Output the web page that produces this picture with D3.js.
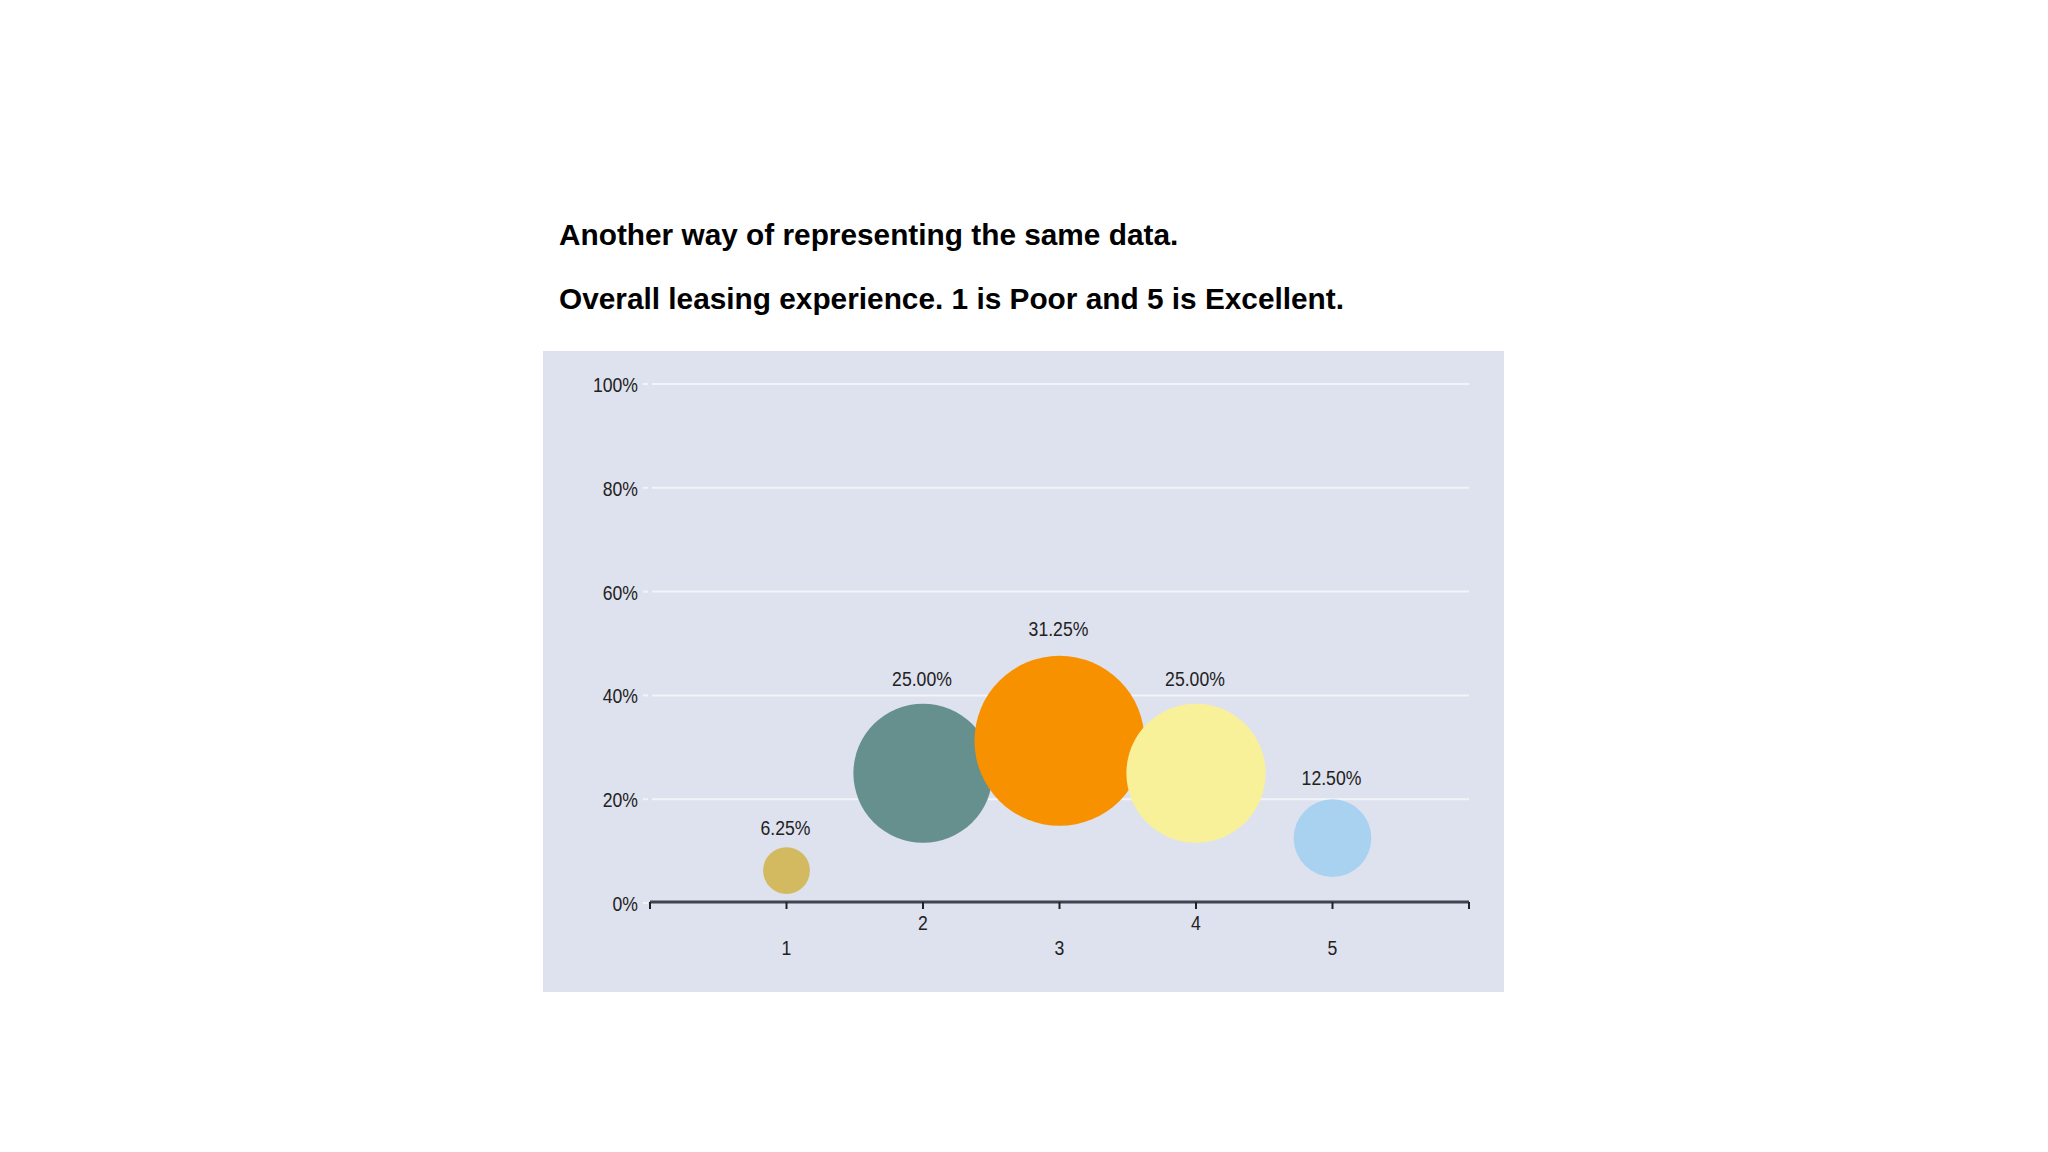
<!DOCTYPE html>
<html>
<head>
<meta charset="utf-8">
<script src="https://cdn.jsdelivr.net/npm/d3@7"></script>
<style>
    body { margin: 0; background: #ffffff; }
    .title { font-family: "Liberation Sans", Arial, sans-serif; font-weight: bold; font-size: 29.8px; fill: #000; }
    .lbl { font-family: "Liberation Sans", Arial, sans-serif; font-size: 21px; fill: #222; }
</style>
</head>
<body>
<div id="content"></div>
<script>
/*
    Chart data
*/
var categories = [1, 2, 3, 4, 5];
var shares = [6.25, 25.00, 31.25, 25.00, 12.50];
var shareLabels = ["6.25%", "25.00%", "31.25%", "25.00%", "12.50%"];
var bubbleColors = ["#d3b95f", "#66908e", "#f79100", "#f8f19a", "#a9d2f0"];
var yTicks = [0, 20, 40, 60, 80, 100];
var titles = ["Another way of representing the same data.",
    "Overall leasing experience. 1 is Poor and 5 is Excellent."];
/*
    Page and plot dimensions
*/
var realW = 2048, realH = 1152;
var panel = { x: 543, y: 351, w: 961, h: 641 };
var plot = { left: 650, right: 1469, top: 384, bottom: 903 };
/*
    Labels in the reference use a condensed face, so squeeze them horizontally
*/
var squeeze = 0.84;

var svg = d3.select("#content")
    .append("svg")
    .attr("width", realW)
    .attr("height", realH);

function label(g, x, y, txt, anchor) {
    g.append("text")
        .attr("class", "lbl")
        .attr("text-anchor", anchor)
        .attr("transform", "translate(" + x + "," + y + ") scale(" + squeeze + ",1)")
        .text(txt);
}
/*
    Titles above the panel
*/
svg.selectAll(".title")
    .data(titles)
    .enter()
    .append("text")
    .attr("class", "title")
    .attr("x", 559)
    .attr("y", function (d, i) { return 245 + i * 64; })
    .text(function (d) { return d; });
/*
    Panel background
*/
svg.append("rect")
    .attr("x", panel.x)
    .attr("y", panel.y)
    .attr("width", panel.w)
    .attr("height", panel.h)
    .style("fill", "#dee1ee");
/*
    Scales
*/
var xScale = d3.scaleLinear().domain([0, 6]).range([plot.left, plot.right]);
var yScale = d3.scaleLinear().domain([0, 100]).range([plot.bottom, plot.top]);
var rScale = d3.scaleLinear().domain([0, d3.max(shares)]).range([8, 85]);
/*
    Gridlines, small left ticks and y labels
*/
var grid = svg.append("g");
yTicks.forEach(function (d) {
    grid.append("line")
        .attr("x1", plot.left - 7)
        .attr("x2", plot.left - 2)
        .attr("y1", yScale(d))
        .attr("y2", yScale(d))
        .style("stroke", "#f3f4f9")
        .style("stroke-width", 2);
    if (d > 0) {
        grid.append("line")
            .attr("x1", plot.left + 2)
            .attr("x2", plot.right)
            .attr("y1", yScale(d))
            .attr("y2", yScale(d))
            .style("stroke", "#f3f4f9")
            .style("stroke-width", 2);
    }
    label(grid, plot.left - 12, yScale(d) + 8, d + "%", "end");
});
/*
    Bubbles
*/
svg.append("g")
    .selectAll("circle")
    .data(shares)
    .enter()
    .append("circle")
    .attr("cx", function (d, i) { return xScale(categories[i]); })
    .attr("cy", function (d) { return yScale(d); })
    .attr("r", function (d) { return rScale(d); })
    .style("fill", function (d, i) { return bubbleColors[i]; });

var valueLabels = svg.append("g");
shares.forEach(function (d, i) {
    label(valueLabels, xScale(categories[i]) - 1,
        yScale(d) - (rScale(d) * 1.13 + 9), shareLabels[i], "middle");
});
/*
    X axis with staggered labels
*/
var xG = svg.append("g")
    .attr("transform", "translate(0," + (plot.bottom - 1) + ")");

xG.append("line")
    .attr("x1", plot.left)
    .attr("x2", plot.right)
    .style("stroke", "#3f4550")
    .style("stroke-width", 3);

xG.selectAll(".tick")
    .data([0].concat(categories, [6]))
    .enter()
    .append("line")
    .attr("x1", function (d) { return xScale(d); })
    .attr("x2", function (d) { return xScale(d); })
    .attr("y1", 0)
    .attr("y2", 7)
    .style("stroke", "#222")
    .style("stroke-width", 2);

categories.forEach(function (d, i) {
    label(xG, xScale(d), i % 2 == 0 ? 53 : 28, d, "middle");
});
</script>
</body>
</html>
